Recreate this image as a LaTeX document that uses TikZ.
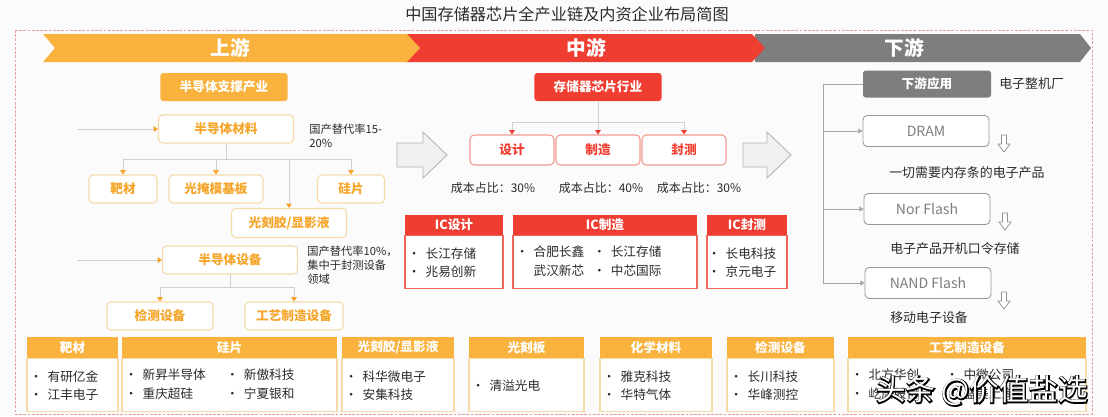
\documentclass[tikz,border=0pt]{standalone}
\usepackage{fontspec}
\setmainfont{Noto Sans CJK SC}
\newfontfamily\markfat[RawFeature={embolden=7}]{Noto Sans CJK SC}
\usetikzlibrary{positioning,arrows.meta}

\definecolor{upOrange}{HTML}{F9B23D}
\definecolor{upText}{HTML}{F5A52A}
\definecolor{upLine}{HTML}{F6DBA9}
\definecolor{midRed}{HTML}{EF3E31}
\definecolor{midLine}{HTML}{F19C94}
\definecolor{downGray}{HTML}{7E7E7E}
\definecolor{frameRed}{HTML}{E6A0A0}
\definecolor{bgPaper}{HTML}{FBFBFB}
\definecolor{inkDark}{HTML}{2B2B2B}

\newcommand{\bul}{\hspace{-0.4em}•\hspace{0.4em}}

\tikzset{
  band/.style={text=white, font=\bfseries\fontsize{14}{16}\selectfont},
  upfill/.style={fill=upOrange, rounded corners=2pt, text=white, inner sep=0pt,
    font=\bfseries\fontsize{9}{11}\selectfont, minimum height=0.7cm},
  upbox/.style={draw=upLine, line width=0.8pt, fill=white, rounded corners=3pt, inner sep=0pt,
    text=upText, font=\bfseries\fontsize{9}{11}\selectfont, minimum height=0.7cm},
  midfill/.style={upfill, fill=midRed},
  midbox/.style={upbox, draw=midLine, text=midRed, minimum width=2.1cm, minimum height=0.75cm},
  downfill/.style={upfill, fill=downGray, minimum height=0.675cm},
  downbox/.style={draw=downGray!80, line width=0.6pt, fill=white, rounded corners=3pt,
    text=downGray, font=\fontsize{10}{12}\selectfont, minimum height=0.775cm, minimum width=3.15cm},
  note/.style={text=inkDark, font=\fontsize{8}{10}\selectfont, align=left, inner sep=0pt},
  dnote/.style={text=inkDark, font=\fontsize{9.2}{11}\selectfont, inner sep=0pt, anchor=west},
  treeline/.style={draw=black!18, line width=0.6pt, -{Triangle[length=3pt,width=4pt,color=upText]}},
  redline/.style={draw=black!18, line width=0.6pt, -{Triangle[length=3pt,width=4pt,color=midRed]}},
  grayline/.style={draw=downGray!70, line width=0.6pt},
  uphead/.style={fill=upOrange, text=white, inner sep=0pt, font=\bfseries\fontsize{9}{11}\selectfont,
    minimum height=0.525cm},
  upbody/.style={draw=upLine, line width=0.8pt, fill=white, text=inkDark, inner xsep=0.2cm, inner ysep=0pt,
    font=\fontsize{9}{13}\selectfont, minimum height=1.325cm, align=left},
  midhead/.style={uphead, fill=midRed, minimum height=0.5cm},
  midbody/.style={upbody, draw=midRed!80},
  hollowdown/.pic={
    \draw[downGray!85, fill=white, line width=0.5pt]
      (-2.5,0) -- (2.5,0) -- (2.5,9) -- (6,9) -- (0,17) -- (-6,9) -- (-2.5,9) -- cycle;
  }
}

\begin{document}
\begin{tikzpicture}[x=0.025cm, y=-0.025cm]
  \useasboundingbox (0,0) rectangle (1108,416);
  \fill[bgPaper] (0,0) rectangle (1108,416);

  \node[font=\fontsize{11.5}{13}\selectfont, text=inkDark] (title) at (567,14)
    {中国存储器芯片全产业链及内资企业布局简图};
  \draw[frameRed, dash pattern=on 2pt off 1pt, line width=0.6pt] (15,30) rectangle (1092,414);

  % Stage band
  \fill[downGray] (755,34) -- (1080,34) -- (1091,48) -- (1080,62) -- (755,62) -- cycle;
  \fill[midRed] (405,34) -- (752,34) -- (765,48) -- (752,62) -- (405,62) -- cycle;
  \fill[upOrange] (43,34) -- (407,34) -- (420,48) -- (407,62) -- (43,62) -- (55,48) -- cycle;
  \node[band] (upT) at (230,48) {上游};
  \node[band] (midT) at (586,48) {中游};
  \node[band] (downT) at (904,48) {下游};

  % Upstream
  \node[upfill, minimum width=3.175cm] (sup) at (224,87) {半导体支撑产业};
  \node[upbox, minimum width=3.375cm] (mat) at (226,129) {半导体材料};
  \node[note, anchor=north west] (matN) at (309,124) {国产替代率15-\\20\%};
  \node[upbox, minimum width=1.7cm] (tgt) at (123,189) {靶材};
  \node[upbox, minimum width=2.35cm] (mask) at (216,189) {光掩模基板};
  \node[upbox, minimum width=1.675cm] (wafer) at (351,189) {硅片};
  \node[upbox, minimum width=2.875cm, minimum height=0.725cm] (resist) at (289,223) {光刻胶/显影液};
  \node[upbox, minimum width=3.375cm] (equip) at (230,260) {半导体设备};
  \node[note, anchor=north west] (equipN) at (307,246) {国产替代率10\%，\\集中于封测设备\\领域};
  \node[upbox, minimum width=2.65cm] (test) at (160,316) {检测设备};
  \node[upbox, minimum width=2.45cm] (proc) at (294,316) {工艺制造设备};

  \coordinate (matL) at (77,129);
  \coordinate (equipL) at (77,260);
  \draw[treeline] (matL) -- (mat.west);
  \draw[treeline] (equipL) -- (equip.west);
  \draw[treeline] (mat.south) -- ++(0,16) -| (tgt.north);
  \draw[treeline] (mat.south) -- ++(0,16) -| (mask.north);
  \draw[treeline] (mat.south) -- ++(0,16) -| (wafer.north);
  \draw[treeline] (mat.south) -- ++(0,16) -| (resist.north);
  \draw[treeline] (equip.south) -- ++(0,13) -| (test.north);
  \draw[treeline] (equip.south) -- ++(0,13) -| (proc.north);

  % Midstream
  \node[midfill, minimum width=3.175cm] (mem) at (598,87) {存储器芯片行业};
  \node[midbox] (design) at (512,150) {设计};
  \node[midbox] (fab) at (598,150) {制造};
  \node[midbox] (pack) at (684,150) {封测};
  \draw[redline] (mem.south) -- ++(0,21) -| (design.north);
  \draw[redline] (mem.south) -- ++(0,21) -| (fab.north);
  \draw[redline] (mem.south) -- ++(0,21) -| (pack.north);
  \node[note, font=\fontsize{8.5}{10}\selectfont] (costA) at (493,188) {成本占比：30\%};
  \node[note, font=\fontsize{8.5}{10}\selectfont] (costB) at (601,188) {成本占比：40\%};
  \node[note, font=\fontsize{8.5}{10}\selectfont] (costC) at (699,188) {成本占比：30\%};

  \filldraw[fill=black!6, draw=black!30, line width=0.6pt]
    (397,143) -- (423,143) -- (423,132) -- (447,155) -- (423,178) -- (423,167) -- (397,167) -- cycle;
  \filldraw[fill=black!6, draw=black!30, line width=0.6pt]
    (743,143) -- (767,143) -- (767,132) -- (791,155) -- (767,178) -- (767,167) -- (743,167) -- cycle;

  \node[midhead, minimum width=2.45cm] (hDes) at (454,225) {IC设计};
  \node[midbody, text width=2.05cm, below=0pt of hDes] (bDes) {\bul 长江存储\\\bul 兆易创新};
  \node[midhead, minimum width=4.6cm] (hFab) at (605,225) {IC制造};
  \node[midbody, text width=4.2cm, below=0pt of hFab] (bFab)
    {\begin{tabular}{@{}l@{\hspace{1.1em}}l@{}}
      \bul 合肥长鑫 & \bul 长江存储\\
      \hphantom{\bul}武汉新芯 & \bul 中芯国际
    \end{tabular}};
  \node[midhead, minimum width=2.0cm] (hPak) at (747,225) {IC封测};
  \node[midbody, text width=1.7cm, inner xsep=0.15cm, below=0pt of hPak] (bPak) {\bul 长电科技\\\bul 京元电子};

  % Downstream
  \node[downfill, minimum width=3.2cm] (app) at (927,84) {下游应用};
  \node[dnote] (oem) at (999,84) {电子整机厂};
  \node[downbox] (dram) at (926,131) {DRAM};
  \node[downbox] (nor) at (927,209) {Nor Flash};
  \node[downbox] (nand) at (928,283) {NAND Flash};
  \coordinate (spine) at (823,84);
  \draw[grayline] (spine) -- (app.west);
  \draw[grayline, -{Triangle[length=3pt,width=3.5pt]}] (spine) |- (dram.west);
  \draw[grayline, -{Triangle[length=3pt,width=3.5pt]}] (spine) |- (nor.west);
  \draw[grayline, -{Triangle[length=3pt,width=3.5pt]}] (spine) |- (nand.west);
  \pic at (1004,135) {hollowdown};
  \pic at (1005,213) {hollowdown};
  \pic at (1004,292) {hollowdown};
  \node[dnote] (useA) at (889,173) {一切需要内存条的电子产品};
  \node[dnote] (useB) at (890,249) {电子产品开机口令存储};
  \node[dnote] (useC) at (890,318) {移动电子设备};

  % Company lists
  \node[uphead, minimum width=2.275cm] (hTgt) at (72.5,347.5) {靶材};
  \node[upbody, text width=1.875cm, below=0pt of hTgt] (bTgt) {\bul 有研亿金\\\bul 江丰电子};
  \node[uphead, minimum width=5.375cm] (hWaf) at (229.5,347.5) {硅片};
  \node[upbody, text width=4.975cm, below=0pt of hWaf] (bWaf)
    {\begin{tabular}{@{}l@{\hspace{2em}}l@{}}
      \bul 新昇半导体 & \bul 新傲科技\\
      \bul 重庆超硅 & \bul 宁夏银和
    \end{tabular}};
  \node[uphead, minimum width=2.8cm] (hRes) at (398,347.5) {光刻胶/显影液};
  \node[upbody, text width=2.4cm, below=0pt of hRes] (bRes) {\bul 科华微电子\\\bul 安集科技};
  \node[uphead, minimum width=2.875cm] (hMsk) at (526.5,347.5) {光刻板};
  \node[upbody, text width=2.475cm, below=0pt of hMsk] (bMsk) {\bul 清溢光电};
  \node[uphead, minimum width=2.8cm] (hChm) at (656,347.5) {化学材料};
  \node[upbody, text width=2.4cm, below=0pt of hChm] (bChm) {\bul 雅克科技\\\bul 华特气体};
  \node[uphead, minimum width=2.675cm] (hTst) at (780.5,347.5) {检测设备};
  \node[upbody, text width=2.275cm, below=0pt of hTst] (bTst) {\bul 长川科技\\\bul 华峰测控};
  \node[uphead, minimum width=5.95cm] (hPrc) at (967,347.5) {工艺制造设备};
  \node[upbody, text width=5.55cm, below=0pt of hPrc] (bPrc)
    {\begin{tabular}{@{}l@{\hspace{2.5em}}l@{}}
      \bul 北方华创 & \bul 中微公司\\
      \bul 屹唐股份 & \bul 盛美上海
    \end{tabular}};

  % Watermark
  \node[text=black, font=\markfat\fontsize{21}{24}\selectfont] (markB) at (982,391) {头条 @价值盐选};
  \node[text=white, font=\fontsize{21}{24}\selectfont] (mark) at (markB) {头条 @价值盐选};
\end{tikzpicture}
\end{document}
